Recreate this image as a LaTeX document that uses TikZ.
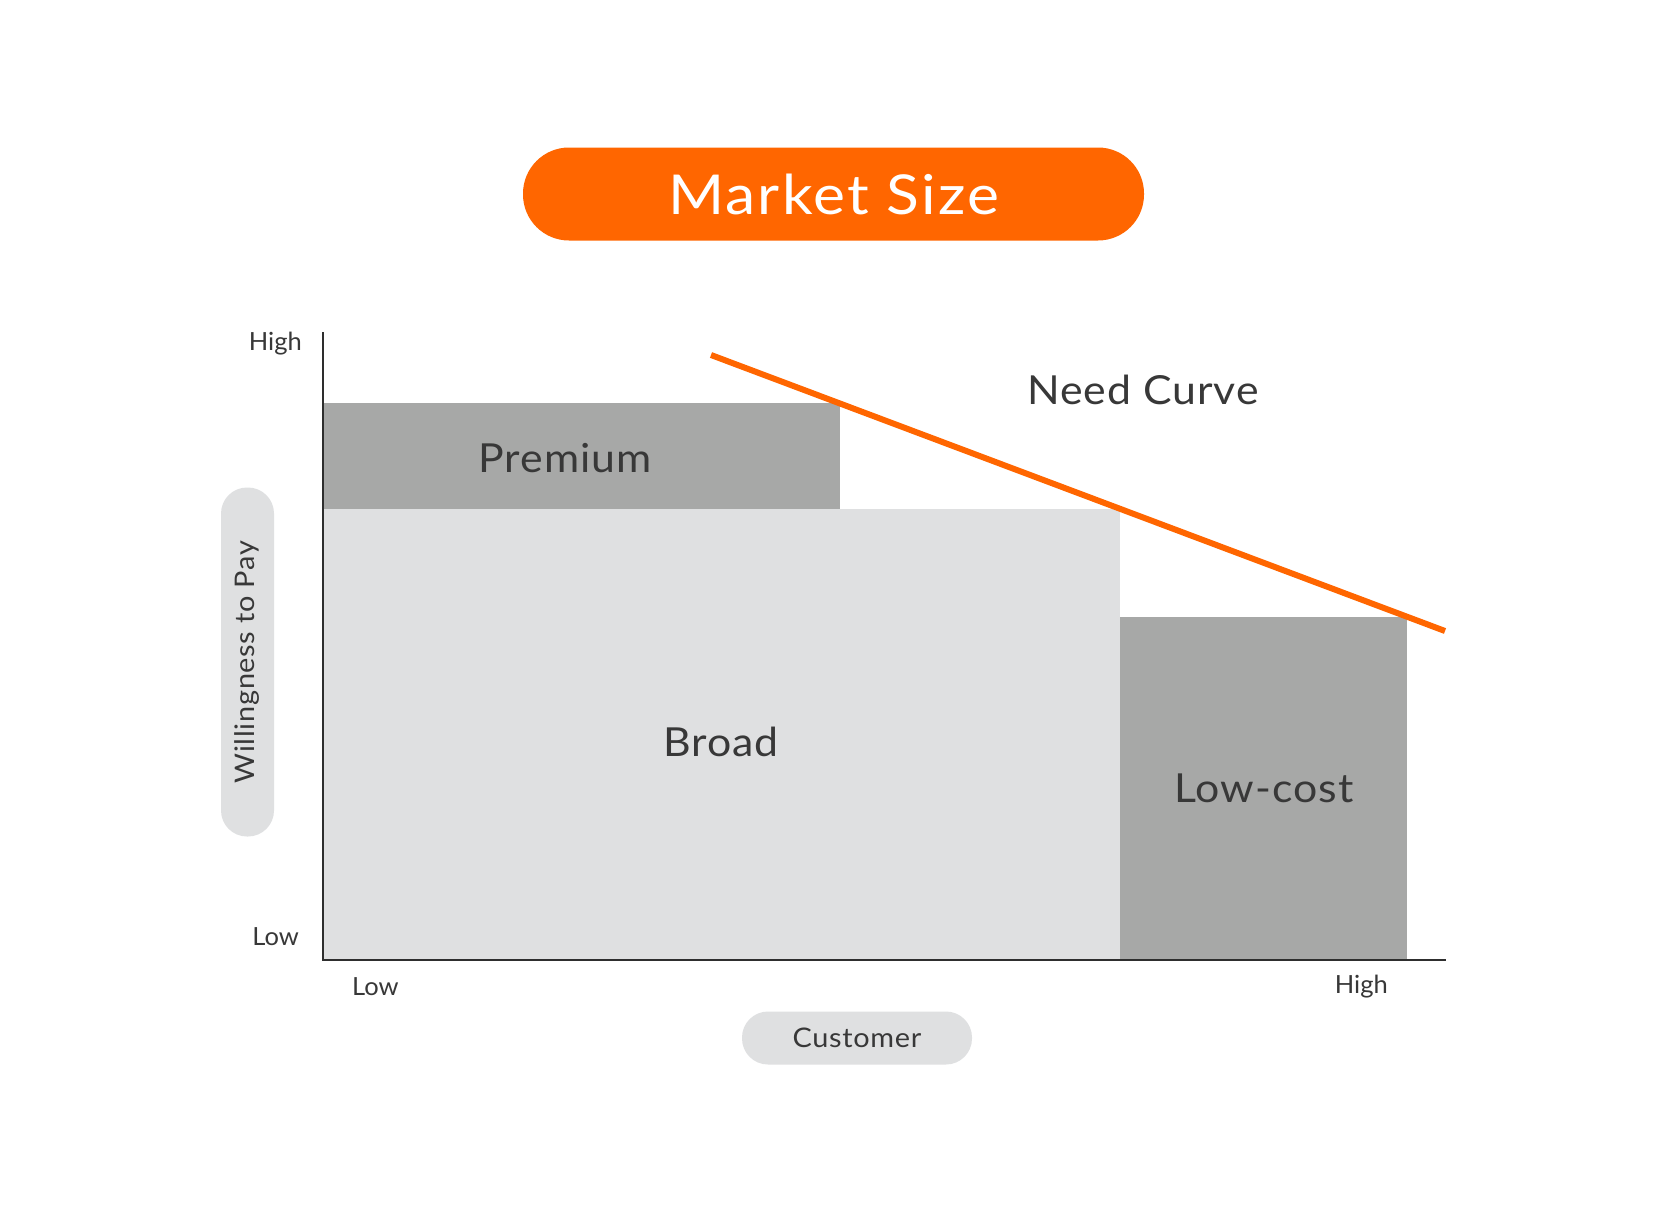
\documentclass[tikz,border=0pt]{standalone}
\usepackage{fontspec}
\setmainfont{Lato}[FakeStretch=1.07, LetterSpace=2.5]
\newfontfamily\titlefont{Lato}[FakeStretch=1.1, LetterSpace=4]
\newfontfamily\tickfont{Lato}[FakeStretch=1.02]
\definecolor{orng}{HTML}{FF6600}
\definecolor{dgray}{HTML}{A7A8A7}
\definecolor{lgray}{HTML}{DFE0E1}
\definecolor{txt}{HTML}{383838}
\definecolor{axis}{HTML}{2E2E2E}
\tikzset{
  lbl/.style={text=txt, inner sep=0pt, font=\fontsize{40}{44}\selectfont},
  ticklbl/.style={text=txt, inner sep=0pt, font=\tickfont\fontsize{25}{28}\selectfont},
  pill/.style={fill=lgray, rounded corners=26pt, inner sep=0pt},
}
\begin{document}
\begin{tikzpicture}[x=1pt,y=-1pt]
\useasboundingbox[fill=white] (0,0) rectangle (1667,1212);
% title
\node[fill=orng, rounded corners=46pt, minimum width=621pt, minimum height=93pt, inner sep=0pt,
      text=white, font=\titlefont\fontsize{55}{60}\selectfont] (title) at (833.5,194) {Market Size};
% areas
\fill[lgray] (323,509) rectangle (1120,960);
\fill[dgray] (323,403) rectangle (840,509);
\fill[dgray] (1120,617) rectangle (1407,960);
% axes
\coordinate (ytop) at (323,332);
\coordinate (orig) at (323,960);
\coordinate (xend) at (1446,960);
\draw[axis, line width=1.4pt] (ytop) -- (orig) -- (xend);
% need curve
\coordinate (n1) at (711,355);
\coordinate (n2) at (1445,631);
\draw[orng, line width=6pt] (n1) -- (n2);
% labels
\node[lbl] (need) at (1143,390) {Need Curve};
\node[lbl] (premium) at (565,458) {Premium};
\node[lbl] (broad) at (721,742) {Broad};
\node[lbl] (lowcost) at (1264,788) {Low-cost};
\node[ticklbl, anchor=east] (yhigh) at (302,344) {High};
\node[ticklbl, anchor=east] (ylow) at (299,937) {Low};
\node[ticklbl, anchor=west] (xlow) at (352,987) {Low};
\node[ticklbl, anchor=east] (xhigh) at (1388,987) {High};
% axis title pills
\node[pill, minimum width=230pt, minimum height=53pt, text=txt, font=\fontsize{27}{30}\selectfont] (cust) at (857,1038) {Customer};
\node[pill, minimum width=349pt, minimum height=53pt, rotate=90, text=txt, font=\fontsize{27}{30}\selectfont] (wtp) at (247.5,662) {Willingness to Pay};
\end{tikzpicture}
\end{document}
